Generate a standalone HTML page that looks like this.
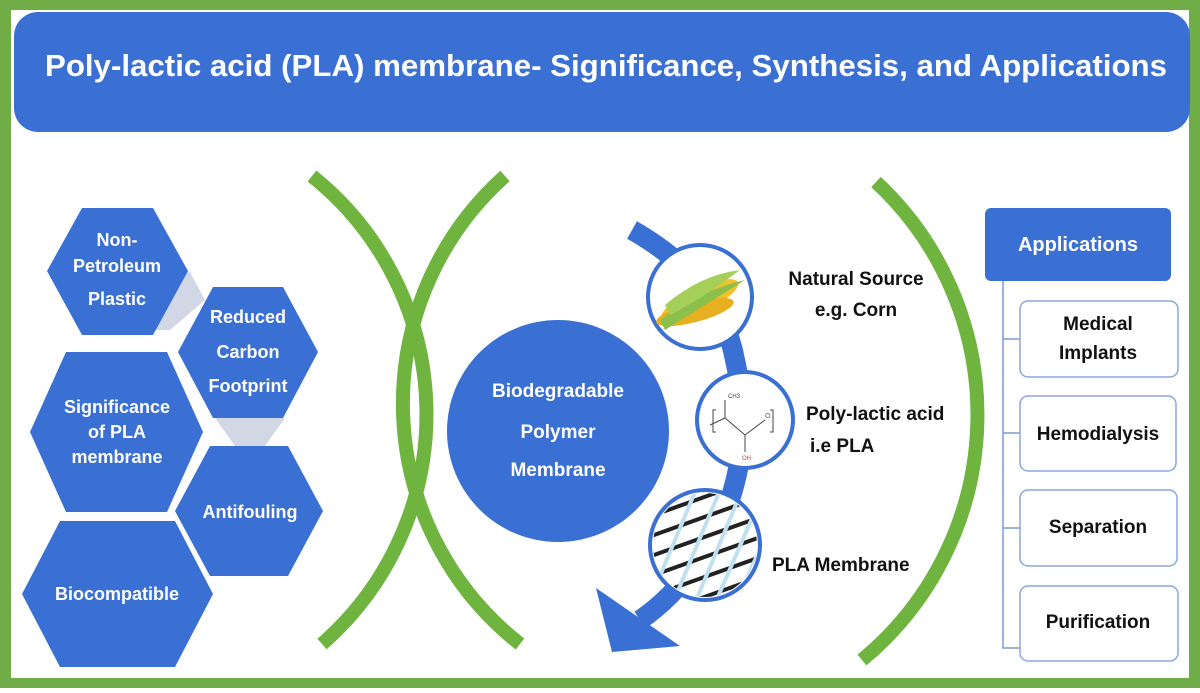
<!DOCTYPE html>
<html><head><meta charset="utf-8"><style>
body{margin:0;width:1200px;height:688px;overflow:hidden;background:#fff;font-family:"Liberation Sans",sans-serif}
</style></head><body>
<svg width="1200" height="688" viewBox="0 0 1200 688" xmlns="http://www.w3.org/2000/svg" font-family="Liberation Sans, sans-serif" font-weight="bold">
<rect x="0" y="0" width="1200" height="688" fill="#70ad47"/>
<rect x="11" y="10" width="1178" height="668" fill="#fff"/>
<rect x="14" y="12" width="1176" height="120" rx="24" fill="#3a6fd3"/>
<text x="606" y="76" text-anchor="middle" fill="#fff" font-size="31" textLength="1122" lengthAdjust="spacingAndGlyphs">Poly-lactic acid (PLA) membrane- Significance, Synthesis, and Applications</text>

<polygon points="175,275 190,272 205,300 170,330 150,330" fill="#d2d7e6"/>
<polygon points="215,418 285,418 265,446 235,446" fill="#d2d7e6"/>
<g fill="#3a6fd3">
<polygon points="82,208 153,208 188,271 153,335 82,335 47,271"/>
<polygon points="213,287 283,287 318,352 283,418 213,418 178,352"/>
<polygon points="66,352 167,352 203,432 167,512 66,512 30,432"/>
<polygon points="210,446 288,446 323,511 288,576 210,576 175,511"/>
<polygon points="60,521 175,521 213,594 175,667 60,667 22,594"/>
</g>
<g fill="#fff" font-size="18" text-anchor="middle">
<text x="117" y="246">Non-</text><text x="117" y="272">Petroleum</text><text x="117" y="305">Plastic</text>
<text x="248" y="323">Reduced</text><text x="248" y="358">Carbon</text><text x="248" y="392">Footprint</text>
<text x="117" y="413">Significance</text><text x="117" y="438">of PLA</text><text x="117" y="463">membrane</text>
<text x="250" y="518">Antifouling</text>
<text x="117" y="600">Biocompatible</text>
</g>

<g fill="none" stroke="#6fb43f" stroke-width="14">
<path d="M312,176 A305,305 0 0 1 322,644"/>
<path d="M505,176 A305,305 0 0 0 520,644"/>
<path d="M876,182 A318,318 0 0 1 862,660"/>
</g>

<circle cx="558" cy="431" r="111" fill="#3a6fd3"/>
<g fill="#fff" font-size="19" text-anchor="middle">
<text x="558" y="397">Biodegradable</text><text x="558" y="438">Polymer</text><text x="558" y="476">Membrane</text>
</g>

<path d="M632,230 Q720,280 735,360 Q760,470 700,560 Q670,600 640,620" fill="none" stroke="#3a6fd3" stroke-width="20"/>
<polygon points="596,588 612,652 680,646" fill="#3a6fd3"/>

<circle cx="700" cy="297" r="52" fill="#fff" stroke="#3a6fd3" stroke-width="4"/>
<g>
<ellipse cx="700" cy="300" rx="42" ry="12" transform="rotate(-25 700 300)" fill="#f2c12e"/>
<ellipse cx="695" cy="312" rx="40" ry="10" transform="rotate(-15 695 312)" fill="#e8b020"/>
<path d="M660,320 Q700,290 745,280 Q705,305 665,330Z" fill="#8cc04a"/>
<path d="M665,305 Q700,275 740,270 Q700,300 670,315Z" fill="#a6cf5a"/>
</g>
<circle cx="745" cy="420" r="48" fill="#fff" stroke="#3a6fd3" stroke-width="4"/>
<g stroke="#444" stroke-width="1" fill="none">
<path d="M710,425 L725,418 L745,435 L765,420 M725,418 L725,400 M745,435 L745,452"/>
<path d="M716,410 L713,410 L713,432 L716,432 M770,410 L773,410 L773,432 L770,432"/>
</g>
<text x="728" y="398" font-size="6" font-weight="normal" fill="#444">CH3</text>
<text x="742" y="460" font-size="6" font-weight="normal" fill="#c33">OH</text>
<text x="765" y="418" font-size="7" font-weight="normal" fill="#c33">O</text>
<circle cx="705" cy="545" r="55" fill="#fff" stroke="#3a6fd3" stroke-width="4"/>
<clipPath id="c"><circle cx="705" cy="545" r="52"/></clipPath>
<g clip-path="url(#c)" stroke-width="4">
<g stroke="#222"><path d="M640,520 L780,470 M640,540 L780,490 M640,560 L780,510 M640,580 L780,530 M640,600 L780,550 M640,620 L780,570"/></g>
<g stroke="#bfe0f0"><path d="M650,600 L700,480 M670,610 L720,490 M690,615 L740,495 M710,615 L760,500 M730,615 L780,505"/></g>
</g>

<g fill="#111" font-size="19">
<text x="856" y="285" text-anchor="middle">Natural Source</text>
<text x="856" y="316" text-anchor="middle">e.g. Corn</text>
<text x="806" y="420">Poly-lactic acid</text>
<text x="810" y="452">i.e PLA</text>
<text x="772" y="571">PLA Membrane</text>
</g>

<path d="M1003,281 V648 H1020 M1003,339 H1020 M1003,433 H1020 M1003,528 H1020" stroke="#7d9ad6" stroke-width="1.5" fill="none"/>
<rect x="985" y="208" width="186" height="73" rx="6" fill="#3a6fd3"/>
<text x="1078" y="251" text-anchor="middle" fill="#fff" font-size="20">Applications</text>
<g fill="#fff" stroke="#8aa6dd" stroke-width="1.5">
<rect x="1020" y="301" width="158" height="76" rx="8"/>
<rect x="1020" y="396" width="156" height="75" rx="8"/>
<rect x="1020" y="490" width="157" height="76" rx="8"/>
<rect x="1020" y="586" width="158" height="75" rx="8"/>
</g>
<g fill="#111" font-size="19" text-anchor="middle">
<text x="1098" y="330">Medical</text><text x="1098" y="359">Implants</text>
<text x="1098" y="440">Hemodialysis</text>
<text x="1098" y="533">Separation</text>
<text x="1098" y="628">Purification</text>
</g>
</svg>
</body></html>
